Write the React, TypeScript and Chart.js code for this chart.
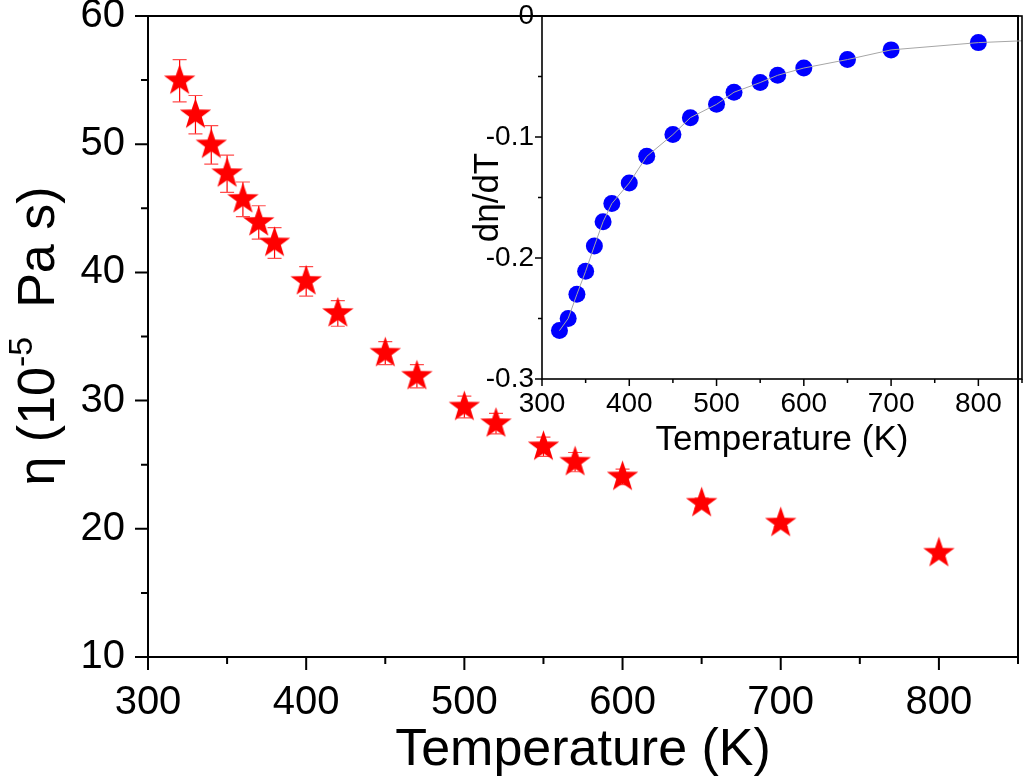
import React, { useEffect, useRef } from 'react';
import { Chart, registerables } from 'chart.js';

Chart.register(...registerables);

// Viscosity vs temperature (main plot)
const temperatures = [320, 330, 340, 350, 360, 370, 380, 400, 420, 450, 470, 500, 520, 550, 570, 600, 650, 700, 800];
const viscosity = [54.95, 52.3, 49.95, 47.7, 45.7, 43.9, 42.3, 39.3, 36.8, 33.7, 31.9, 29.5, 28.2, 26.4, 25.2, 24.05, 22.0, 20.45, 18.1];
const viscosityErr = [1.65, 1.5, 1.5, 1.45, 1.35, 1.3, 1.2, 1.15, 1.0, 0.9, 0.9, 0.85, 0.8, 0.75, 0.75, 0.6, 0.4, 0.3, 0.15];

// Derivative dη/dT (inset)
const slope = [-0.26, -0.25, -0.23, -0.211, -0.19, -0.17, -0.155, -0.138, -0.116, -0.098, -0.084, -0.073, -0.063, -0.055, -0.049, -0.043, -0.036, -0.028, -0.022];
const fitT = [...temperatures, 850];
const fitSlope = [...slope, -0.0205];

// Tick labels
const mainXTicks = [300, 400, 500, 600, 700, 800];
const mainYTicks = [10, 20, 30, 40, 50, 60];
const insetXTicks = [300, 400, 500, 600, 700, 800];
const insetYTicks = [-0.3, -0.2, -0.1, 0];

const FONT = '"Liberation Sans", Arial, sans-serif';

function makeStar(outer: number, inner: number, color: string): HTMLCanvasElement {
  const size = Math.ceil(outer * 2 + 2);
  const c = document.createElement('canvas');
  c.width = size;
  c.height = size;
  const g = c.getContext('2d')!;
  const cx = size / 2;
  const cy = size / 2;
  g.beginPath();
  for (let i = 0; i < 10; i++) {
    const r = i % 2 === 0 ? outer : inner;
    const a = -Math.PI / 2 + (i * Math.PI) / 5;
    const px = cx + r * Math.cos(a);
    const py = cy + r * Math.sin(a);
    if (i === 0) g.moveTo(px, py);
    else g.lineTo(px, py);
  }
  g.closePath();
  g.fillStyle = color;
  g.fill();
  return c;
}

type FrameOpts = {
  lineWidth: number;
  xMajor: number;
  xMinor: number;
  yMajor: number;
  yMinor: number;
  majorLen: number;
  minorLen: number;
  tickWidth: number;
};

// Box frame plus outward major/minor tick marks on bottom and left axes
function framePlugin(o: FrameOpts) {
  return {
    id: 'frameTicks',
    afterDraw(chart: any) {
      const { ctx, chartArea: a, scales } = chart;
      const xs = scales.x;
      const ys = scales.y;
      ctx.save();
      ctx.strokeStyle = '#000';
      ctx.lineWidth = o.lineWidth;
      ctx.strokeRect(a.left, a.top, a.right - a.left, a.bottom - a.top);
      ctx.lineWidth = o.tickWidth;
      ctx.beginPath();
      const nx = Math.round((xs.max - xs.min) / o.xMinor);
      for (let i = 0; i <= nx; i++) {
        const v = xs.min + i * o.xMinor;
        const px = xs.getPixelForValue(v);
        const r = v / o.xMajor;
        const major = Math.abs(r - Math.round(r)) < 1e-6;
        ctx.moveTo(px, a.bottom);
        ctx.lineTo(px, a.bottom + (major ? o.majorLen : o.minorLen));
      }
      const ny = Math.round((ys.max - ys.min) / o.yMinor);
      for (let i = 0; i <= ny; i++) {
        const v = ys.min + i * o.yMinor;
        const py = ys.getPixelForValue(v);
        const r = v / o.yMajor;
        const major = Math.abs(r - Math.round(r)) < 1e-6;
        ctx.moveTo(a.left, py);
        ctx.lineTo(a.left - (major ? o.majorLen : o.minorLen), py);
      }
      ctx.stroke();
      ctx.restore();
    },
  };
}

// Vertical error bars with caps, drawn under the star markers
const errorBarPlugin = {
  id: 'errorBars',
  beforeDatasetsDraw(chart: any) {
    const { ctx, scales } = chart;
    const xs = scales.x;
    const ys = scales.y;
    ctx.save();
    temperatures.forEach((t, i) => {
      const px = xs.getPixelForValue(t);
      const top = ys.getPixelForValue(viscosity[i] + viscosityErr[i]);
      const bot = ys.getPixelForValue(viscosity[i] - viscosityErr[i]);
      ctx.strokeStyle = '#ff0000';
      ctx.lineWidth = 1.2;
      ctx.beginPath();
      ctx.moveTo(px, top);
      ctx.lineTo(px, bot);
      ctx.stroke();
      ctx.strokeStyle = '#ff4d4d';
      ctx.beginPath();
      ctx.moveTo(px - 7, top);
      ctx.lineTo(px + 7, top);
      ctx.moveTo(px - 7, bot);
      ctx.lineTo(px + 7, bot);
      ctx.stroke();
    });
    ctx.restore();
  },
};

// Rotated y-axis title with a superscript exponent
const yTitlePlugin = {
  id: 'yTitle',
  afterDraw(chart: any) {
    const { ctx } = chart;
    const big = `52px ${FONT}`;
    const small = `34px ${FONT}`;
    const parts: [string, string, number][] = [
      ['η (10', big, 0],
      ['-5', small, -22],
      ['  Pa s)', big, 0],
    ];
    ctx.save();
    ctx.translate(54, 336);
    ctx.rotate(-Math.PI / 2);
    ctx.fillStyle = '#000';
    ctx.textBaseline = 'alphabetic';
    ctx.textAlign = 'left';
    let total = 0;
    for (const [t, f] of parts) {
      ctx.font = f;
      total += ctx.measureText(t).width;
    }
    let x = -total / 2;
    for (const [t, f, dy] of parts) {
      ctx.font = f;
      ctx.fillText(t, x, dy);
      x += ctx.measureText(t).width;
    }
    ctx.restore();
  },
};

function MainChart() {
  const ref = useRef<HTMLCanvasElement>(null);
  useEffect(() => {
    const star = makeStar(16.5, 6.6, '#ff0000');
    const chart = new Chart(ref.current!, {
      type: 'scatter',
      data: {
        datasets: [
          {
            data: temperatures.map((t, i) => ({ x: t, y: viscosity[i] })),
            pointStyle: star as any,
            pointRadius: 16,
            showLine: false,
          },
        ],
      },
      options: {
        animation: false,
        responsive: false,
        maintainAspectRatio: false,
        layout: { autoPadding: false, padding: { top: 16, right: 7, left: 0, bottom: 0 } },
        plugins: { legend: { display: false }, tooltip: { enabled: false } },
        scales: {
          x: {
            type: 'linear',
            min: 300,
            max: 850,
            afterBuildTicks: (s: any) => {
              s.ticks = mainXTicks.map((v) => ({ value: v }));
            },
            grid: { display: false, drawTicks: false },
            border: { display: false },
            ticks: {
              font: { family: FONT, size: 40 },
              color: '#000',
              padding: 22,
              maxRotation: 0,
              autoSkip: false,
            },
            title: {
              display: true,
              text: 'Temperature (K)',
              font: { family: FONT, size: 52 },
              color: '#000',
              padding: { top: 0, bottom: 1 },
            },
            afterFit: (s: any) => {
              s.height = 126;
              s.paddingLeft = 0;
              s.paddingRight = 0;
            },
          },
          y: {
            type: 'linear',
            min: 10,
            max: 60,
            afterBuildTicks: (s: any) => {
              s.ticks = mainYTicks.map((v) => ({ value: v }));
            },
            grid: { display: false, drawTicks: false },
            border: { display: false },
            ticks: {
              font: { family: FONT, size: 40 },
              color: '#000',
              padding: 23,
            },
            afterFit: (s: any) => {
              s.width = 148;
              s.paddingTop = 0;
              s.paddingBottom = 0;
              s.paddingLeft = 0;
              s.paddingRight = 0;
            },
          },
        },
      },
      plugins: [
        errorBarPlugin,
        framePlugin({ lineWidth: 2, xMajor: 100, xMinor: 50, yMajor: 10, yMinor: 5, majorLen: 13, minorLen: 7, tickWidth: 2 }),
        yTitlePlugin,
      ],
    });
    return () => chart.destroy();
  }, []);
  return <canvas ref={ref} width={1025} height={783} style={{ position: 'absolute', left: 0, top: 0 }} />;
}

function InsetChart() {
  const ref = useRef<HTMLCanvasElement>(null);
  useEffect(() => {
    const chart = new Chart(ref.current!, {
      type: 'scatter',
      data: {
        datasets: [
          {
            data: fitT.map((t, i) => ({ x: t, y: fitSlope[i] })),
            showLine: true,
            borderColor: '#a6a6a6',
            borderWidth: 1,
            pointRadius: 0,
          },
          {
            data: temperatures.map((t, i) => ({ x: t, y: slope[i] })),
            pointStyle: 'circle',
            pointRadius: 8.5,
            backgroundColor: '#0000ff',
            borderColor: '#0000ff',
            borderWidth: 0,
            showLine: false,
          },
        ],
      },
      options: {
        animation: false,
        responsive: false,
        maintainAspectRatio: false,
        layout: { autoPadding: false, padding: { top: 16, right: 3, left: 0, bottom: 0 } },
        plugins: { legend: { display: false }, tooltip: { enabled: false } },
        scales: {
          x: {
            type: 'linear',
            min: 300,
            max: 850,
            afterBuildTicks: (s: any) => {
              s.ticks = insetXTicks.map((v) => ({ value: v }));
            },
            grid: { display: false, drawTicks: false },
            border: { display: false },
            ticks: {
              font: { family: FONT, size: 28 },
              color: '#000',
              padding: 8,
              maxRotation: 0,
              autoSkip: false,
            },
            title: {
              display: true,
              text: 'Temperature (K)',
              font: { family: FONT, size: 35 },
              color: '#000',
              padding: { top: 0, bottom: 9 },
            },
            afterFit: (s: any) => {
              s.height = 91;
              s.paddingLeft = 0;
              s.paddingRight = 0;
            },
          },
          y: {
            type: 'linear',
            min: -0.3,
            max: 0,
            afterBuildTicks: (s: any) => {
              s.ticks = insetYTicks.map((v) => ({ value: v }));
            },
            grid: { display: false, drawTicks: false },
            border: { display: false },
            ticks: {
              font: { family: FONT, size: 28 },
              color: '#000',
              padding: 8,
              callback: (v: any) => (Math.abs(v) < 1e-9 ? '0' : Number(v).toFixed(1)),
            },
            title: {
              display: true,
              text: 'dη/dT',
              font: { family: FONT, size: 35 },
              color: '#000',
              padding: { top: 27, bottom: 0 },
            },
            afterFit: (s: any) => {
              s.width = 102;
              s.paddingTop = 0;
              s.paddingBottom = 0;
              s.paddingLeft = 0;
              s.paddingRight = 0;
            },
          },
        },
      },
      plugins: [
        framePlugin({ lineWidth: 1.6, xMajor: 100, xMinor: 50, yMajor: 0.1, yMinor: 0.05, majorLen: 7, minorLen: 4, tickWidth: 1.5 }),
      ],
    });
    return () => chart.destroy();
  }, []);
  return <canvas ref={ref} width={585} height={470} style={{ position: 'absolute', left: 440, top: 0 }} />;
}

export default function App() {
  return (
    <div style={{ position: 'fixed', left: 0, top: 0, width: 1025, height: 783, background: '#fff' }}>
      <MainChart />
      <InsetChart />
    </div>
  );
}
